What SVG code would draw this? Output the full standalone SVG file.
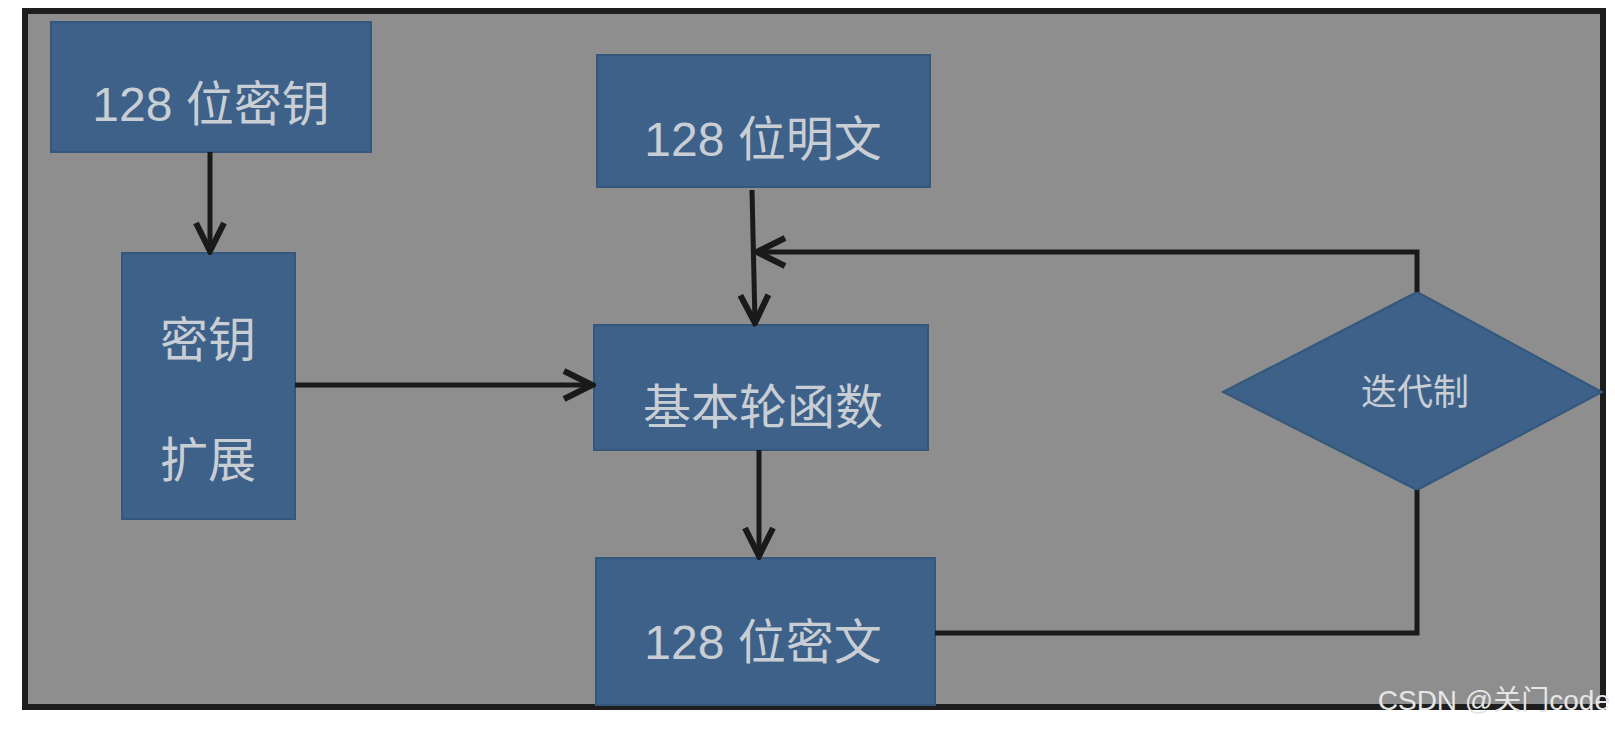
<svg xmlns="http://www.w3.org/2000/svg" width="1615" height="729" viewBox="0 0 1615 729">
<defs>
<style>
.n{fill:#3d6189;stroke:#35577c;stroke-width:2}
.t{fill:#c9ced4;font-family:"Liberation Sans","Noto Sans CJK SC",sans-serif;font-size:48px;text-anchor:middle}
.c{fill:none;stroke:#1a1a1a;stroke-width:5}
</style>
<marker id="a" viewBox="0 0 20 20" refX="18" refY="10" markerWidth="7" markerHeight="7" markerUnits="strokeWidth" orient="auto"><path d="M2,2 L18,10 L2,18" fill="none" stroke="#1a1a1a" stroke-width="3.5"/></marker>
</defs>
<rect width="1615" height="729" fill="#fff"/>
<rect x="25" y="11" width="1578" height="696" fill="#8e8e8e" stroke="#1e1e1e" stroke-width="6"/>
<g id="key"><rect class="n" x="51" y="22" width="320" height="130"/><text class="t" x="211" y="121">128 位密钥</text></g>
<g id="expand"><rect class="n" x="122" y="253" width="173" height="266"/><text class="t" x="208" y="357">密钥</text><text class="t" x="208" y="477">扩展</text></g>
<g id="plain"><rect class="n" x="597" y="55" width="333" height="132"/><text class="t" x="763" y="156">128 位明文</text></g>
<g id="round"><rect class="n" x="594" y="325" width="334" height="125"/><text class="t" x="763" y="424">基本轮函数</text></g>
<g id="cipher"><rect class="n" x="596" y="558" width="339" height="147"/><text class="t" x="763" y="659">128 位密文</text></g>
<g id="iter"><polygon class="n" points="1223,392 1417,292 1602,392 1417,490"/><text class="t" x="1415" y="405" style="font-size:36px">迭代制</text></g>
<g id="edges">
<path class="c" d="M210,152 V251" marker-end="url(#a)"/>
<path class="c" d="M295,385 H592" marker-end="url(#a)"/>
<path class="c" d="M752,190 L755,323" marker-end="url(#a)"/>
<path class="c" d="M759,450 V556" marker-end="url(#a)"/>
<path class="c" d="M935,633 H1417 V490"/>
<path class="c" d="M1417,292 V252 H757" marker-end="url(#a)"/>
</g>
<text x="1610" y="710" fill="#e6e6e6" style="font-family:'Liberation Sans','Noto Sans CJK SC',sans-serif;font-size:28px;text-anchor:end">CSDN @关门code</text>
</svg>
